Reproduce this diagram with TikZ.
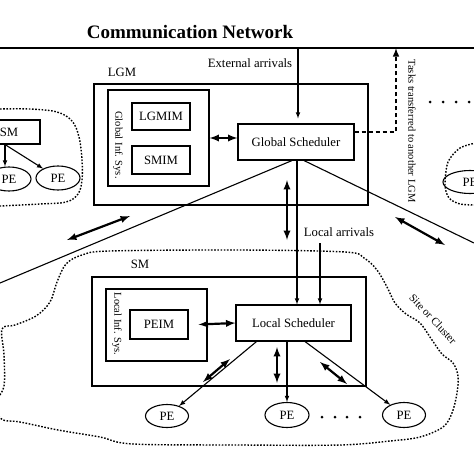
\documentclass[tikz,border=0pt]{standalone}
\usepackage{fontspec}
\setmainfont{Liberation Serif}
\usetikzlibrary{shapes,arrows}
\newcommand{\fsz}[1]{\fontsize{#1}{#1}\selectfont}

\begin{document}
\begin{tikzpicture}[x=1pt,y=-1pt,
  blk/.style={draw,line width=1.1pt,inner sep=0pt,font=\fsz{12.7}},
  pe/.style={draw,ellipse,line width=1.1pt,inner sep=0pt,font=\fsz{12.7}},
  arr/.style={-latex,line width=1.1pt},
  dbl/.style={latex-latex,line width=2.2pt},
  site/.style={line width=1.4pt,dash pattern=on 1.6pt off 1.6pt},
  lbl/.style={font=\fsz{12.7}},
  vlbl/.style={font=\fsz{10.5},rotate=-90}]
\useasboundingbox (0,0) rectangle (474,474);
\clip (0,0) rectangle (474,474);

\node[font=\bfseries\fsz{19}] (title) at (190,32) {Communication Network};
\coordinate (netL) at (0,48);
\coordinate (netR) at (474,48);
\draw[line width=2.8pt] (netL)--(netR);

% LGM
\node[blk,minimum width=274pt,minimum height=121pt] (lgm) at (231,144.5) {};
\node[lbl] (lgmlab) at (122,72) {LGM};
\node[blk,minimum width=101pt,minimum height=96pt] (gis) at (158.5,138) {};
\node[vlbl] (gistxt) at (118,145) {Global Inf. Sys.};
\node[blk,minimum width=58pt,minimum height=27pt] (lgmim) at (161,116.5) {LGMIM};
\node[blk,minimum width=58pt,minimum height=28pt] (smim) at (161,160) {SMIM};
\node[blk,minimum width=116pt,minimum height=36pt] (gs) at (296,142) {Global Scheduler};
\draw[dbl] (gis.east)--(gis.east -| gs.west);

\node[lbl] (extlab) at (250,63) {External arrivals};
\coordinate (ext) at (298,48);
\draw[arr,shorten >=5pt] (ext)--(ext |- gs.north);

\coordinate (xfer) at (396,48);
\draw[-latex,line width=1.9pt,dash pattern=on 4pt off 3pt] ([yshift=10pt]gs.east) -| (xfer);
\node[vlbl] (xferlab) at (412,131) {Tasks transferred to another LGM};
\foreach \x in {430,443,456,469} \fill (\x,102) circle (1.5pt);

\coordinate (edgeL) at (0,283);
\coordinate (edgeR) at (474,243);
\draw[line width=1.1pt] ([xshift=-4pt]gs.south)--(edgeL);
\draw[line width=1.1pt] ([xshift=8pt]gs.south)--(edgeR);

\coordinate (dlA) at (67,240);
\coordinate (dlB) at (130,216);
\draw[dbl] (dlA)--(dlB);
\coordinate (drA) at (395,217);
\coordinate (drB) at (445,245);
\draw[dbl] (drA)--(drB);
\coordinate (dvA) at (287,180);
\coordinate (dvB) at (287,240);
\draw[dbl] (dvA)--(dvB);

% SM
\node[blk,minimum width=274pt,minimum height=109pt] (sm) at (229,331.5) {};
\node[lbl] (smlab) at (140,264) {SM};
\node[blk,minimum width=101pt,minimum height=72pt] (lis) at (156.5,325) {};
\node[vlbl] (listxt) at (117,324) {Local Inf. Sys.};
\node[blk,minimum width=58pt,minimum height=29pt] (peim) at (159,324.5) {PEIM};
\node[blk,minimum width=115pt,minimum height=36pt] (ls) at (293.5,323) {Local Scheduler};
\draw[dbl] ([xshift=10pt]peim.east)--(ls.west);

\draw[arr] ([xshift=1pt]gs.south)--([xshift=1pt]gs.south |- ls.north);
\node[lbl] (larrlab) at (339,232) {Local arrivals};
\coordinate (larr) at (320,243);
\draw[arr] (larr)--(larr |- ls.north);

\node[pe,minimum width=43pt,minimum height=23pt] (pe1) at (167,416) {PE};
\node[pe,minimum width=44pt,minimum height=25pt] (pe2) at (287,415) {PE};
\node[pe,minimum width=43pt,minimum height=25pt] (pe3) at (404,415) {PE};
\draw[arr] ([xshift=-37pt]ls.south)--(pe1);
\draw[arr] ([xshift=-6.5pt]ls.south)--(pe2.north);
\draw[arr] ([xshift=11.5pt]ls.south)--(pe3);
\foreach \x in {322,335,347,360} \fill (\x,417) circle (1.5pt);

\coordinate (d1A) at (203,382);
\coordinate (d1B) at (230,359);
\draw[dbl] (d1A)--(d1B);
\coordinate (d2A) at (277,347);
\coordinate (d2B) at (277,383);
\draw[dbl] (d2A)--(d2B);
\coordinate (d3A) at (320,362);
\coordinate (d3B) at (347,384);
\draw[dbl] (d3A)--(d3B);

\node[font=\fsz{11},rotate=-47] (sitelab) at (433,319) {Site or Cluster};
\draw[site] plot[smooth,tension=0.55] coordinates {(-4,400) (4,386) (4,355) (2,329) (15,325) (36,316) (50,302) (57,282) (66,264) (82,255) (110,251) (240,250) (345,252) (364,258) (377,270) (387,287) (395,303) (406,314) (420,323) (432,340) (442,354) (453,363) (458,376) (457,393) (452,413) (443,427) (420,437) (390,441) (340,445) (240,445) (133,444) (100,437) (58,430) (20,422) (3,420) (-4,412)};

% neighbours
\node[blk,minimum width=62pt,minimum height=24pt] (smL) at (9,132) {SM};
\node[pe,minimum width=44pt,minimum height=24pt] (peL1) at (9,179) {PE};
\node[pe,minimum width=44pt,minimum height=24pt] (peL2) at (58,178) {PE};
\draw[arr] ([xshift=-4pt]smL.south)--([xshift=-4pt]peL1.north);
\draw[arr] ([xshift=-4pt]smL.south)--(peL2);
\draw[site] plot[smooth,tension=0.6] coordinates {(0,109) (30,109) (57,112) (72,121) (79,137) (82,160) (82,180) (78,194) (66,202) (40,204) (0,206)};

\node[pe,minimum width=54pt,minimum height=23pt] (peR) at (470,182) {PE};
\draw[site] plot[smooth] coordinates {(476,143) (460,148) (448,162) (445,185) (449,198) (460,204) (476,205)};
\end{tikzpicture}
\end{document}
